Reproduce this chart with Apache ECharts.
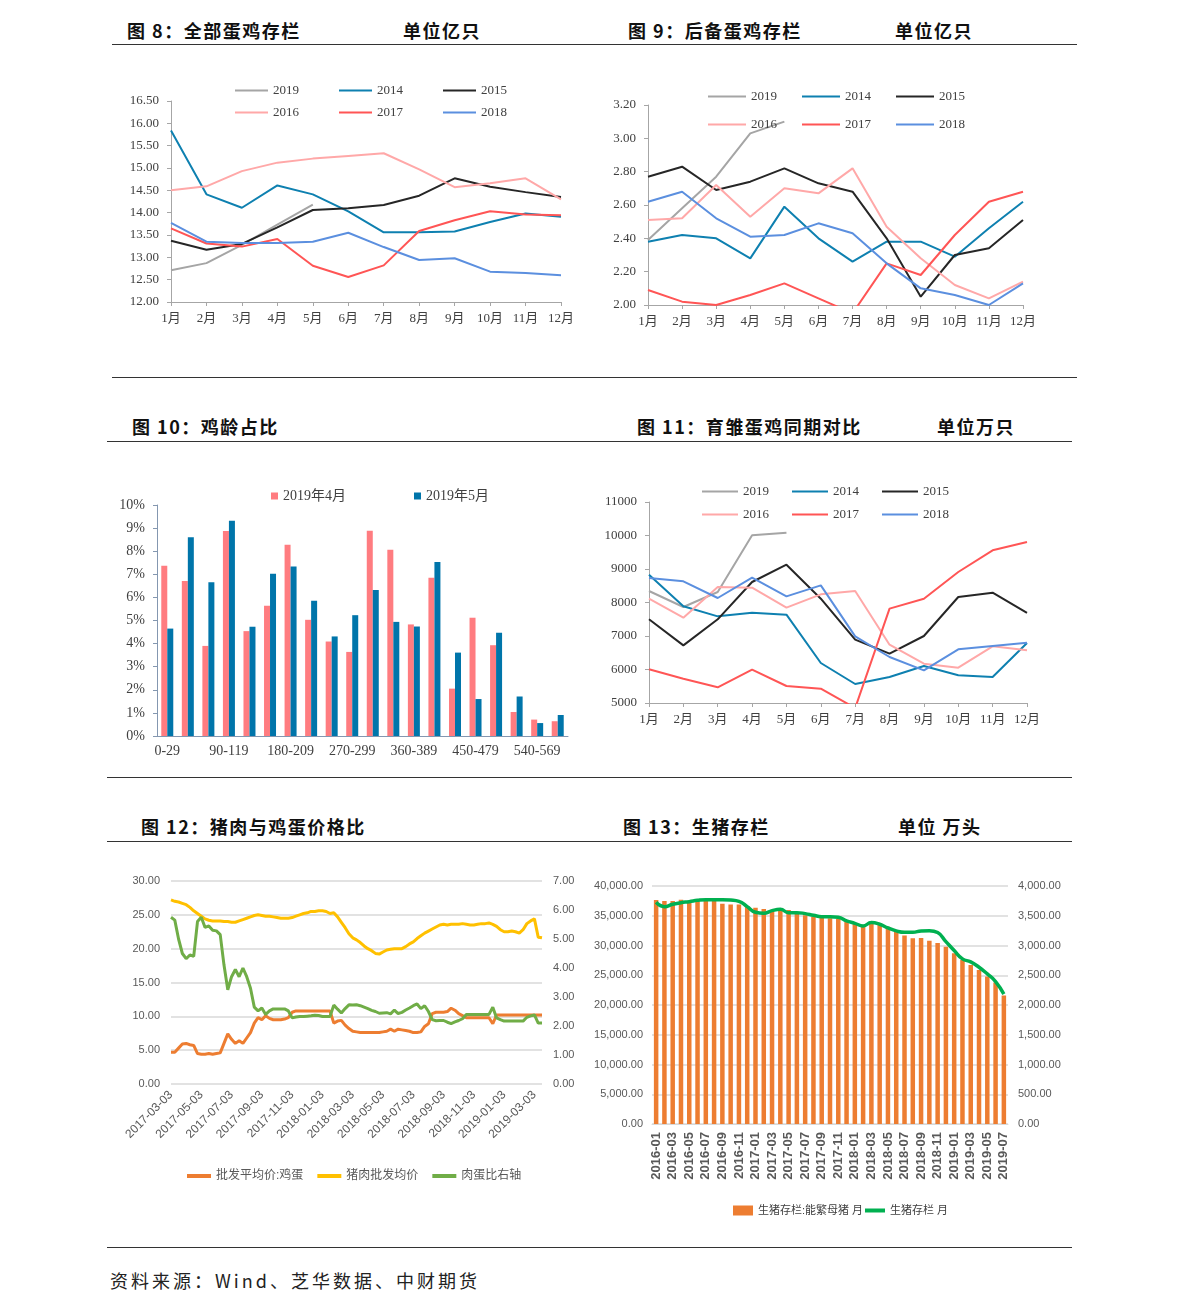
<!DOCTYPE html>
<html>
<head>
<meta charset="utf-8">
<script src="https://cdn.jsdelivr.net/npm/echarts@6/dist/echarts.min.js"></script>
<style>
  body {
    margin: 0;
    background: #fff;
    width: 1191px;
    height: 1312px;
    position: relative;
    overflow: hidden;
    font-family: "Noto Sans CJK SC", sans-serif;
  }
  .title {
    position: absolute;
    font-size: 18px;
    font-weight: bold;
    letter-spacing: 1.5px;
    color: #111;
    line-height: 22px;
    white-space: nowrap;
  }
  .rule {
    position: absolute;
    height: 0;
    border-top: 1.5px solid #333;
  }
  .chart { position: absolute; }
  .source {
    position: absolute;
    left: 110px;
    top: 1268px;
    font-size: 18px;
    letter-spacing: 3px;
    color: #222;
    line-height: 24px;
    white-space: nowrap;
  }
</style>
</head>
<body>
  <!-- 标题与分隔线 -->
  <div class="title" style="left:127px;top:19px;">图 8：全部蛋鸡存栏</div>
  <div class="title" style="left:403px;top:19px;">单位亿只</div>
  <div class="title" style="left:628px;top:19px;">图 9：后备蛋鸡存栏</div>
  <div class="title" style="left:895px;top:19px;">单位亿只</div>
  <div class="rule" style="left:112px;top:44px;width:965px;"></div>
  <div class="rule" style="left:112px;top:377px;width:965px;border-top-width:1px;"></div>

  <div class="title" style="left:132px;top:415px;">图 10：鸡龄占比</div>
  <div class="title" style="left:637px;top:415px;">图 11：育雏蛋鸡同期对比</div>
  <div class="title" style="left:937px;top:415px;">单位万只</div>
  <div class="rule" style="left:107px;top:441px;width:965px;"></div>
  <div class="rule" style="left:107px;top:777px;width:965px;border-top-width:1px;"></div>

  <div class="title" style="left:141px;top:815px;">图 12：猪肉与鸡蛋价格比</div>
  <div class="title" style="left:623px;top:815px;">图 13：生猪存栏</div>
  <div class="title" style="left:898px;top:815px;">单位 万头</div>
  <div class="rule" style="left:107px;top:841px;width:965px;"></div>
  <div class="rule" style="left:107px;top:1247px;width:965px;border-top-width:1px;"></div>

  <div class="source">资料来源：Wind、芝华数据、中财期货</div>

  <div id="c8" class="chart" style="left:100px;top:70px;width:490px;height:270px;"></div>
  <div id="c9" class="chart" style="left:590px;top:75px;width:490px;height:265px;"></div>
  <div id="c10" class="chart" style="left:100px;top:480px;width:480px;height:290px;"></div>
  <div id="c11" class="chart" style="left:590px;top:475px;width:480px;height:260px;"></div>
  <div id="c12" class="chart" style="left:100px;top:860px;width:490px;height:330px;"></div>
  <div id="c13" class="chart" style="left:590px;top:860px;width:490px;height:370px;"></div>

<script>
const months = ['1月', '2月', '3月', '4月', '5月', '6月', '7月', '8月', '9月', '10月', '11月', '12月'];
const years = ['2019', '2014', '2015', '2016', '2017', '2018'];

// 图8 全部蛋鸡存栏（亿只）
const all2019 = [12.71, 12.87, 13.28, 13.73, 14.18];
const all2014 = [15.84, 14.41, 14.11, 14.61, 14.41, 14.03, 13.56, 13.56, 13.58, 13.79, 13.98, 13.91];
const all2015 = [13.37, 13.17, 13.30, 13.67, 14.06, 14.10, 14.17, 14.38, 14.77, 14.58, 14.46, 14.35];
const all2016 = [14.50, 14.59, 14.93, 15.12, 15.21, 15.27, 15.33, 14.97, 14.57, 14.66, 14.77, 14.30];
const all2017 = [13.65, 13.31, 13.24, 13.41, 12.81, 12.56, 12.82, 13.59, 13.83, 14.03, 13.96, 13.94];
const all2018 = [13.77, 13.35, 13.32, 13.32, 13.35, 13.55, 13.23, 12.94, 12.98, 12.68, 12.65, 12.60];

// 图9 后备蛋鸡存栏（亿只）
const reserve2019 = [2.39, 2.58, 2.77, 3.03, 3.10];
const reserve2014 = [2.38, 2.42, 2.40, 2.28, 2.59, 2.40, 2.26, 2.38, 2.38, 2.29, 2.46, 2.62];
const reserve2015 = [2.77, 2.83, 2.69, 2.74, 2.82, 2.73, 2.68, 2.40, 2.05, 2.30, 2.34, 2.51];
const reserve2016 = [2.51, 2.52, 2.72, 2.53, 2.70, 2.67, 2.82, 2.47, 2.28, 2.12, 2.04, 2.14];
const reserve2017 = [2.09, 2.02, 2.00, 2.06, 2.13, 2.04, 1.95, 2.25, 2.18, 2.42, 2.62, 2.68];
const reserve2018 = [2.62, 2.68, 2.52, 2.41, 2.42, 2.49, 2.43, 2.25, 2.10, 2.06, 2.00, 2.13];

// 图10 鸡龄占比（%）
const ageGroups = ['0-29', '30-59', '60-89', '90-119', '120-149', '150-179', '180-209', '210-239', '240-269', '270-299',
  '300-329', '330-359', '360-389', '390-419', '420-449', '450-479', '480-509', '510-539', '540-569', '570-599'];
const ageApr = [7.37, 6.71, 3.90, 8.87, 4.54, 5.64, 8.28, 5.03, 4.09, 3.64, 8.89, 8.06, 4.83, 6.85, 2.05, 5.12, 3.93, 1.04, 0.71, 0.64];
const ageMay = [4.65, 8.60, 6.66, 9.32, 4.73, 7.02, 7.34, 5.85, 4.31, 5.23, 6.32, 4.94, 4.74, 7.53, 3.61, 1.60, 4.47, 1.71, 0.56, 0.91];

// 图11 育雏蛋鸡同期对比（万只）
const chick2019 = [8343, 7866, 8313, 10005, 10085];
const chick2014 = [8830, 7886, 7587, 7697, 7637, 6194, 5567, 5776, 6105, 5826, 5776, 6791];
const chick2015 = [7498, 6721, 7498, 8612, 9129, 8114, 6891, 6473, 7000, 8164, 8294, 7687];
const chick2016 = [8114, 7547, 8463, 8443, 7846, 8244, 8343, 6741, 6174, 6055, 6692, 6572];
const chick2017 = [6005, 5726, 5468, 5995, 5507, 5428, 4850, 7816, 8114, 8910, 9557, 9806];
const chick2018 = [8731, 8632, 8134, 8741, 8184, 8512, 6990, 6373, 5975, 6602, 6701, 6801];

// 图12 猪肉与鸡蛋价格比（每月 03/10/17/24 四个点）
const eggPrice = [4.7, 4.7, 5.3, 5.9, 6.0, 5.8, 5.7, 4.5, 4.4, 4.4,
  4.5, 4.4, 4.5, 4.6, 6.0, 7.4, 6.6, 6.0, 6.4, 6.0,
  6.8, 7.6, 9.0, 9.8, 9.5, 10.1, 9.7, 9.5, 9.5, 9.5,
  9.6, 9.8, 10.6, 10.8, 10.8, 10.8, 10.8, 10.8, 10.8, 10.8,
  10.8, 10.8, 10.8, 9.0, 9.3, 9.4, 8.7, 8.2, 7.8, 7.7,
  7.6, 7.6, 7.6, 7.6, 7.6, 7.6, 7.7, 7.8, 8.1, 7.8,
  8.1, 8.0, 7.9, 7.8, 7.6, 7.6, 7.7, 8.5, 8.9, 10.4,
  10.6, 10.6, 10.6, 10.7, 11.2, 10.9, 10.4, 10.1, 9.8, 9.8,
  9.8, 9.8, 9.8, 9.8, 9.8, 8.9, 10.2, 10.2, 10.2, 10.2,
  10.2, 10.2, 10.2, 10.2, 10.2, 10.2, 10.2, 10.2, 10.2];
const porkPrice = [27.2, 27.0, 26.9, 26.7, 26.5, 26.1, 25.6, 25.2, 24.8, 24.4,
  24.2, 24.1, 24.1, 24.1, 24.0, 24.0, 23.9, 23.9, 24.1, 24.3,
  24.5, 24.7, 24.9, 25.0, 24.9, 24.8, 24.8, 24.7, 24.6, 24.5,
  24.5, 24.5, 24.6, 24.8, 25.0, 25.2, 25.3, 25.5, 25.5, 25.6,
  25.6, 25.5, 25.2, 25.3, 24.7, 23.9, 23.1, 22.2, 21.6, 21.3,
  20.9, 20.4, 20.0, 19.7, 19.3, 19.2, 19.5, 19.8, 19.9, 20.0,
  20.0, 20.0, 20.3, 20.7, 21.0, 21.5, 21.9, 22.3, 22.6, 22.9,
  23.2, 23.5, 23.6, 23.5, 23.6, 23.6, 23.6, 23.7, 23.6, 23.5,
  23.5, 23.6, 23.7, 23.7, 23.8, 23.6, 23.3, 22.8, 22.5, 22.5,
  22.6, 22.5, 22.3, 22.8, 23.7, 24.1, 24.4, 21.7, 21.6];
const meatEggRatio = [5.75, 5.65, 5.0, 4.5, 4.32, 4.45, 4.40, 5.6, 5.75, 5.4,
  5.45, 5.3, 5.28, 5.15, 4.1, 3.25, 3.7, 3.95, 3.7, 4.0,
  3.7, 3.3, 2.65, 2.52, 2.62, 2.4, 2.52, 2.59, 2.59, 2.59,
  2.59, 2.52, 2.28, 2.31, 2.33, 2.33, 2.34, 2.35, 2.37, 2.36,
  2.33, 2.33, 2.33, 2.72, 2.58, 2.45, 2.6, 2.73, 2.72, 2.73,
  2.70, 2.65, 2.60, 2.54, 2.50, 2.44, 2.45, 2.46, 2.42, 2.55,
  2.43, 2.47, 2.55, 2.62, 2.70, 2.76, 2.60, 2.70, 2.50, 2.22,
  2.18, 2.19, 2.19, 2.13, 2.08, 2.14, 2.19, 2.25, 2.40, 2.40,
  2.40, 2.40, 2.40, 2.40, 2.40, 2.65, 2.28, 2.22, 2.17, 2.17,
  2.17, 2.17, 2.17, 2.17, 2.30, 2.35, 2.38, 2.10, 2.10];

// 日期类目：2017-03 起，每月 03/10/17/24
const priceDates = [];
for (let m = 0; m < 25; m++) {
  const y = 2017 + Math.floor((2 + m) / 12);
  const mm = String((2 + m) % 12 + 1).padStart(2, '0');
  ['03', '10', '17', '24'].forEach(d => priceDates.push(y + '-' + mm + '-' + d));
}
priceDates.length = eggPrice.length;

// 图13 生猪存栏（万头）
const hogMonths = [];
for (let y = 2016; y <= 2019; y++) {
  for (let m = 1; m <= 12; m++) {
    if (y === 2019 && m > 7) break;
    hogMonths.push(y + '-' + String(m).padStart(2, '0'));
  }
}
const sowStock = [37650, 37480, 37480, 37700, 37540, 37600, 37500, 37500, 37000, 36870, 36870, 36640,
  36360, 36140, 35860, 35970, 35970, 35300, 35080, 34850, 34740, 34570, 34460, 33960,
  33730, 33450, 34010, 33730, 33170, 32500, 31660, 31200, 31270, 30800, 30430, 29800,
  28700, 27580, 26740, 25900, 24780, 23780, 21600];
const hogStock = [3726, 3653, 3692, 3720, 3737, 3760, 3771, 3771, 3771, 3765, 3743, 3653,
  3558, 3541, 3586, 3608, 3552, 3552, 3536, 3508, 3485, 3485, 3474, 3413,
  3373, 3329, 3385, 3357, 3295, 3245, 3222, 3222, 3245, 3250, 3217, 3066,
  2915, 2775, 2724, 2635, 2523, 2394, 2182];

const yearColors = {
  '2019': '#A5A5A5', '2014': '#0E80B0', '2015': '#262626',
  '2016': '#FFA8A8', '2017': '#FF5555', '2018': '#5B8FDF'
};
const serif = '"Liberation Serif", "Times New Roman", "Noto Sans CJK SC", serif';
const sans = '"Liberation Sans Narrow", "Liberation Sans", "Noto Sans CJK SC", sans-serif';

// 年度折线图通用配置
const yearLineOption = (dataList, yAxis, grid, legend) => ({
  animation: false,
  grid: Object.assign({ outerBoundsMode: 'none' }, grid),
  legend: [
    Object.assign({ data: years.slice(0, 3), top: legend.top[0] }, legend.base),
    Object.assign({ data: years.slice(3), top: legend.top[1] }, legend.base)
  ],
  xAxis: {
    type: 'category',
    boundaryGap: false,
    data: months,
    axisLine: { lineStyle: { color: '#A6A6A6' } },
    axisTick: { length: 4, lineStyle: { color: '#A6A6A6' } },
    axisLabel: { interval: 0, color: '#404040', fontFamily: serif, fontSize: 13, margin: 10 }
  },
  yAxis: Object.assign({
    type: 'value',
    axisLine: { show: true, lineStyle: { color: '#A6A6A6' } },
    axisTick: { show: true, length: 4, lineStyle: { color: '#A6A6A6' } },
    splitLine: { show: false }
  }, yAxis),
  series: years.map((name, i) => ({
    name: name,
    type: 'line',
    data: dataList[i],
    symbol: 'none',
    clip: true,
    lineStyle: { width: 2, color: yearColors[name] },
    itemStyle: { color: yearColors[name] }
  }))
});

const legendText = { color: '#404040', fontFamily: serif, fontSize: 13 };
const lineLegend = { padding: 0, icon: 'rect', itemHeight: 2, textStyle: legendText };

const opt8 = yearLineOption(
  [all2019, all2014, all2015, all2016, all2017, all2018],
  {
    min: 12, max: 16.5, interval: 0.5,
    axisLabel: { formatter: v => v.toFixed(2), color: '#404040', fontFamily: serif, fontSize: 13, margin: 12 }
  },
  { left: 71, right: 29, top: 31, bottom: 38 },
  {
    top: [14, 36],
    base: Object.assign({ left: 135, itemWidth: 33, itemGap: 40 }, lineLegend)
  }
);

const opt9 = yearLineOption(
  [reserve2019, reserve2014, reserve2015, reserve2016, reserve2017, reserve2018],
  {
    min: 2, max: 3.2, interval: 0.2,
    axisLabel: { formatter: v => v.toFixed(2), color: '#404040', fontFamily: serif, fontSize: 13, margin: 12 }
  },
  { left: 58, right: 57, top: 30, bottom: 35 },
  {
    top: [15, 43],
    base: Object.assign({ left: 118, itemWidth: 38, itemGap: 25 }, lineLegend)
  }
);

const opt11 = yearLineOption(
  [chick2019, chick2014, chick2015, chick2016, chick2017, chick2018],
  {
    min: 5000, max: 11000, interval: 1000,
    axisLabel: { formatter: v => String(v), color: '#404040', fontFamily: serif, fontSize: 13, margin: 12 }
  },
  { left: 59, right: 43, top: 27, bottom: 32 },
  {
    top: [10, 33],
    base: Object.assign({ left: 112, itemWidth: 36, itemGap: 23 }, lineLegend)
  }
);

// 图10 柱状图
const opt10 = {
  animation: false,
  grid: { left: 57, right: 12, top: 25, bottom: 34, outerBoundsMode: 'none' },
  legend: {
    data: ['2019年4月', '2019年5月'],
    left: 171,
    top: 9,
    padding: 0,
    icon: 'rect',
    itemWidth: 7,
    itemHeight: 7,
    itemGap: 68,
    textStyle: { color: '#404040', fontFamily: serif, fontSize: 14 }
  },
  xAxis: {
    type: 'category',
    data: ageGroups,
    axisLine: { lineStyle: { color: '#8497B0' } },
    axisTick: { length: 4, lineStyle: { color: '#8497B0' } },
    axisLabel: { interval: 2, color: '#404040', fontFamily: serif, fontSize: 14, margin: 8 }
  },
  yAxis: {
    type: 'value',
    min: 0,
    max: 10,
    interval: 1,
    axisLine: { show: true, lineStyle: { color: '#8497B0' } },
    axisTick: { show: true, length: 4, lineStyle: { color: '#8497B0' } },
    splitLine: { show: false },
    axisLabel: { formatter: '{value}%', color: '#404040', fontFamily: serif, fontSize: 14, margin: 12 }
  },
  series: [
    { name: '2019年4月', type: 'bar', data: ageApr, barWidth: 6, barGap: '0%', itemStyle: { color: '#FF7C80' } },
    { name: '2019年5月', type: 'bar', data: ageMay, barWidth: 6, barGap: '0%', itemStyle: { color: '#0075AA' } }
  ]
};

// 图12 价格比
const grayLabel = { color: '#595959', fontFamily: sans, fontSize: 11 };
const opt12 = {
  animation: false,
  grid: { left: 71, right: 48, top: 21, bottom: 106, outerBoundsMode: 'none' },
  legend: {
    data: ['批发平均价:鸡蛋', '猪肉批发均价', '肉蛋比右轴'],
    left: 87,
    top: 310,
    padding: 0,
    icon: 'rect',
    itemWidth: 24,
    itemHeight: 4,
    itemGap: 14,
    textStyle: { color: '#595959', fontFamily: sans, fontSize: 12 }
  },
  xAxis: {
    type: 'category',
    boundaryGap: false,
    data: priceDates,
    axisLine: { show: false },
    axisTick: { show: false },
    axisLabel: Object.assign({}, grayLabel, { interval: 7, rotate: 45, margin: 9, fontSize: 12 })
  },
  yAxis: [
    {
      type: 'value', min: 0, max: 30, interval: 5,
      axisLine: { show: false }, axisTick: { show: false },
      splitLine: { lineStyle: { color: '#D9D9D9', width: 1.5 } },
      axisLabel: Object.assign({ formatter: v => v.toFixed(2), margin: 11 }, grayLabel)
    },
    {
      type: 'value', min: 0, max: 7, interval: 1, position: 'right',
      axisLine: { show: false }, axisTick: { show: false },
      splitLine: { show: false },
      axisLabel: Object.assign({ formatter: v => v.toFixed(2), margin: 11 }, grayLabel)
    }
  ],
  series: [
    { name: '批发平均价:鸡蛋', type: 'line', data: eggPrice, symbol: 'none', lineStyle: { width: 3, color: '#ED7D31' }, itemStyle: { color: '#ED7D31' } },
    { name: '猪肉批发均价', type: 'line', data: porkPrice, symbol: 'none', lineStyle: { width: 3, color: '#FFC000' }, itemStyle: { color: '#FFC000' } },
    { name: '肉蛋比右轴', type: 'line', yAxisIndex: 1, data: meatEggRatio, symbol: 'none', lineStyle: { width: 3, color: '#70AD47' }, itemStyle: { color: '#70AD47' } }
  ]
};

// 图13 生猪存栏
const money = v => v.toLocaleString('en-US', { minimumFractionDigits: 2, maximumFractionDigits: 2 });
const opt13 = {
  animation: false,
  grid: { left: 62, right: 72, top: 26, bottom: 106, outerBoundsMode: 'none' },
  legend: [
    {
      data: ['生猪存栏:能繁母猪 月'],
      left: 143,
      top: 345,
      padding: 0,
      icon: 'rect',
      itemWidth: 20,
      itemHeight: 10,
      textStyle: { color: '#404040', fontFamily: sans, fontSize: 11 }
    },
    {
      data: ['生猪存栏 月'],
      left: 275,
      top: 345,
      padding: 0,
      icon: 'rect',
      itemWidth: 20,
      itemHeight: 4,
      textStyle: { color: '#404040', fontFamily: sans, fontSize: 11 }
    }
  ],
  xAxis: {
    type: 'category',
    data: hogMonths,
    axisLine: { lineStyle: { color: '#D9D9D9' } },
    axisTick: { interval: 1, length: 4, lineStyle: { color: '#D9D9D9' } },
    axisLabel: { interval: 1, rotate: 90, margin: 8, color: '#595959', fontFamily: sans, fontSize: 13, fontWeight: 'bold' }
  },
  yAxis: [
    {
      type: 'value', min: 0, max: 40000, interval: 5000,
      axisLine: { show: false }, axisTick: { show: false },
      splitLine: { lineStyle: { color: '#D9D9D9', width: 1.5 } },
      axisLabel: Object.assign({ formatter: money, margin: 9 }, grayLabel)
    },
    {
      type: 'value', min: 0, max: 4000, interval: 500, position: 'right',
      axisLine: { show: false }, axisTick: { show: false },
      splitLine: { show: false },
      axisLabel: Object.assign({ formatter: money, margin: 10 }, grayLabel)
    }
  ],
  series: [
    { name: '生猪存栏:能繁母猪 月', type: 'bar', data: sowStock, barWidth: 4.5, itemStyle: { color: '#ED7D31' } },
    { name: '生猪存栏 月', type: 'line', yAxisIndex: 1, data: hogStock, smooth: true, symbol: 'none', lineStyle: { width: 3.5, color: '#00B050' }, itemStyle: { color: '#00B050' } }
  ]
};

const charts = [['c8', opt8], ['c9', opt9], ['c10', opt10], ['c11', opt11], ['c12', opt12], ['c13', opt13]];
charts.forEach(([id, option]) => {
  const chart = echarts.init(document.getElementById(id));
  chart.setOption(option);
});
</script>
</body>
</html>
